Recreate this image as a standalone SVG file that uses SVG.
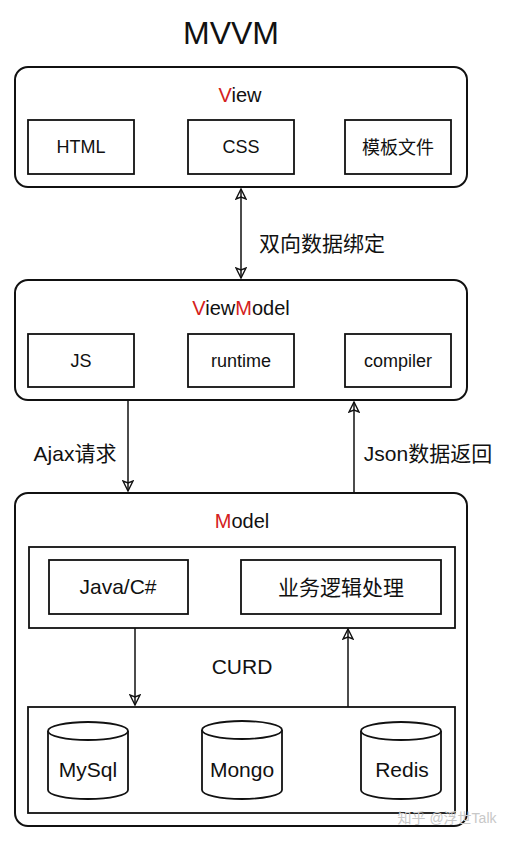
<svg xmlns="http://www.w3.org/2000/svg" width="516" height="841" viewBox="0 0 516 841">
<defs>
<style>
text{font-family:"Liberation Sans",Arial,"Noto Sans CJK SC",sans-serif;fill:#111;text-anchor:middle}
.outer{fill:#fff;stroke:#111;stroke-width:2}
.box{fill:#fff;stroke:#111;stroke-width:1.8}
.lbl{font-size:18px}
.big{font-size:21px}
.hdr{font-size:20px}
.red{fill:#d42020}
.edge{fill:none;stroke:#111;stroke-width:1.5}
.db{fill:#fff;stroke:#111;stroke-width:1.8}
</style>
<marker id="ah" viewBox="0 0 12 12" refX="11" refY="6" markerWidth="12" markerHeight="12" markerUnits="userSpaceOnUse" orient="auto-start-reverse">
<path d="M1,1 L11,6 L1,11 L3,6 Z" fill="none" stroke="#111" stroke-width="1.4" stroke-linejoin="miter"/>
</marker>
</defs>
<rect width="516" height="841" fill="#fff"/>
<text x="231" y="44" font-size="32">MVVM</text>

<g id="view">
<rect class="outer" x="15" y="67" width="452" height="120" rx="13"/>
<text class="hdr" x="240" y="102"><tspan class="red">V</tspan>iew</text>
<g id="html"><rect class="box" x="28" y="120" width="106" height="54"/><text class="lbl" x="81" y="153">HTML</text></g>
<g id="css"><rect class="box" x="188" y="120" width="106" height="54"/><text class="lbl" x="241" y="153">CSS</text></g>
<g id="tpl"><rect class="box" x="345" y="120" width="106" height="54"/><text class="lbl" x="398" y="154">模板文件</text></g>
</g>

<g id="viewmodel">
<rect class="outer" x="15" y="280" width="452" height="120" rx="13"/>
<text class="hdr" x="241" y="315"><tspan class="red">V</tspan>iew<tspan class="red">M</tspan>odel</text>
<g id="js"><rect class="box" x="28" y="334" width="106" height="53"/><text class="lbl" x="81" y="367">JS</text></g>
<g id="runtime"><rect class="box" x="188" y="334" width="106" height="53"/><text class="lbl" x="241" y="367">runtime</text></g>
<g id="compiler"><rect class="box" x="345" y="334" width="106" height="53"/><text class="lbl" x="398" y="367">compiler</text></g>
</g>

<g id="model">
<rect class="outer" x="15" y="493" width="452" height="333" rx="13"/>
<text class="hdr" x="242" y="528"><tspan class="red">M</tspan>odel</text>
<g id="logic-layer">
<rect class="box" x="29" y="547" width="426" height="81"/>
<g id="java"><rect class="box" x="49" y="560" width="139" height="54"/><text class="big" x="118" y="594">Java/C#</text></g>
<g id="biz"><rect class="box" x="241" y="560" width="200" height="54"/><text class="big" x="341" y="595">业务逻辑处理</text></g>
</g>
<g id="db-layer">
<rect class="box" x="28" y="707" width="427" height="106"/>
<g id="mysql">
<path class="db" d="M48,731 L48,790 A40,9 0 0 0 128,790 L128,731"/>
<ellipse class="db" cx="88" cy="731" rx="40" ry="9"/>
<text class="big" x="88" y="777">MySql</text>
</g>
<g id="mongo">
<path class="db" d="M202,730 L202,790 A40,9 0 0 0 282,790 L282,730"/>
<ellipse class="db" cx="242" cy="730" rx="40" ry="9"/>
<text class="big" x="242" y="777">Mongo</text>
</g>
<g id="redis">
<path class="db" d="M361,731 L361,790 A40,9 0 0 0 441,790 L441,731"/>
<ellipse class="db" cx="401" cy="731" rx="40" ry="9"/>
<text class="big" x="402" y="777">Redis</text>
</g>
</g>
</g>

<g id="connectors">
<line class="edge" x1="241" y1="189" x2="241" y2="278" marker-start="url(#ah)" marker-end="url(#ah)"/>
<line class="edge" x1="128" y1="400" x2="128" y2="491" marker-end="url(#ah)"/>
<line class="edge" x1="354" y1="492" x2="354" y2="402" marker-end="url(#ah)"/>
<line class="edge" x1="135" y1="628" x2="135" y2="705" marker-end="url(#ah)"/>
<line class="edge" x1="348" y1="707" x2="348" y2="629" marker-end="url(#ah)"/>
<text class="big" x="322" y="251">双向数据绑定</text>
<text class="big" x="75" y="461">Ajax请求</text>
<text class="big" x="428" y="461">Json数据返回</text>
<text class="big" x="242" y="674">CURD</text>
</g>
<text x="447" y="823" font-size="14" style="fill:#c8c8c8">知乎 @浮世Talk</text>
</svg>
